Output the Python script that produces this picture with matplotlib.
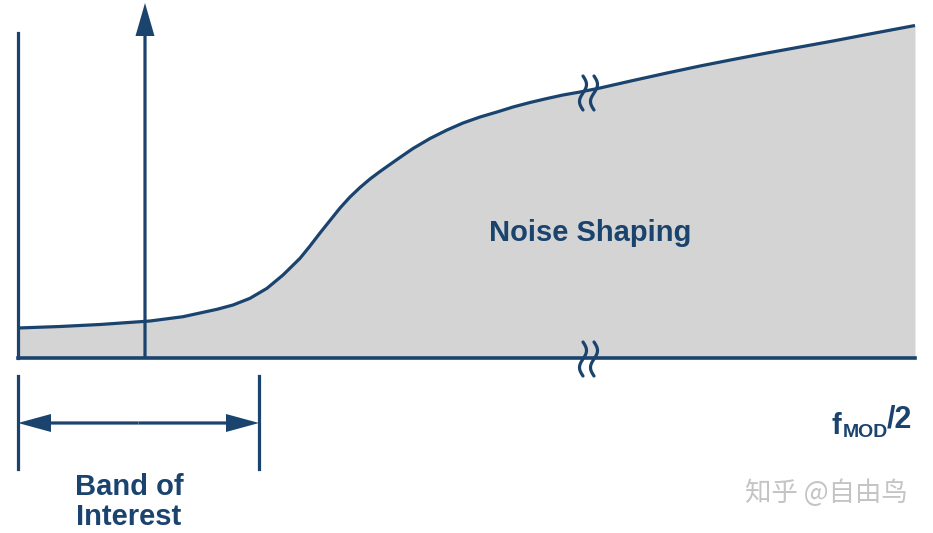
import matplotlib.pyplot as plt
import numpy as np

plt.rcParams['font.family'] = ['Liberation Sans', 'DejaVu Sans']

# colours
navy = '#1a436e'
fill_grey = '#d4d4d4'

# noise-shaping curve (pixel units, y downwards)
curve_x = [18, 60, 100, 150, 183, 217, 233, 250, 267, 283, 300, 310, 320, 330, 340,
           350, 360, 370, 380, 397, 413, 430, 447, 463, 480, 497, 513, 530, 547, 563, 580,
           600, 633, 667, 700, 733, 767, 800, 833, 867, 915]
curve_y = [328, 326.5, 324.5, 321, 316.7, 309.3, 305, 298.3, 288.3, 275, 258.3, 246, 233, 220.5, 208,
           197, 187.5, 179, 171.5, 159.5, 148.5, 138.5, 130, 123, 117, 112, 107, 102.5, 98.5, 95, 92,
           88, 80.5, 73, 66, 59.5, 53, 47, 41, 34.5, 25.5]

base_y = 358
axis_x = 18
axis_top = 33
signal_x = 145
signal_top = 3
band_edges = [18, 259]
band_y = 423
band_tick = [376, 469]
break_x = [583, 594]
break_y_curve = 93
break_y_base = 359

fig = plt.figure(figsize=(9.33, 5.33), dpi=100)
ax = fig.add_axes([0, 0, 1, 1])
ax.set_xlim(0, 933)
ax.set_ylim(533, 0)
ax.axis('off')

# shaded noise area + curve
ax.fill_between(curve_x, curve_y, base_y, color=fill_grey, lw=0)
ax.plot(curve_x, curve_y, color=navy, lw=2.3, solid_capstyle='butt', solid_joinstyle='round')

# axes
ax.plot([axis_x, axis_x], [axis_top, base_y], color=navy, lw=2.3)
ax.plot([axis_x, curve_x[-1]], [base_y, base_y], color=navy, lw=2.6)

# signal tone arrow
ax.arrow(signal_x, base_y, 0, signal_top - base_y, width=3.2, head_width=19,
         head_length=33, length_includes_head=True, color=navy, lw=0)

# band of interest
for bx in band_edges:
    ax.plot([bx, bx], band_tick, color=navy, lw=2.3)
mid = (band_edges[0] + band_edges[1]) / 2
for end in band_edges:
    ax.arrow(mid, band_y, end - mid, 0, width=3.2, head_width=18, head_length=33,
             length_includes_head=True, color=navy, lw=0)

# break marks
t = np.linspace(0, 1, 40)
for yc in [break_y_curve, break_y_base]:
    for xc in break_x:
        ax.plot(xc + 3.5 * np.sin(2 * np.pi * t), yc - 17 + 34 * t,
                color=navy, lw=2.3, solid_capstyle='round')

# labels
ax.text(590, 233, 'Noise Shaping', color=navy, fontsize=21, fontweight='bold',
        ha='center', va='center')
ax.text(129, 487, 'Band of', color=navy, fontsize=21, fontweight='bold',
        ha='center', va='center')
ax.text(129, 517, 'Interest', color=navy, fontsize=21, fontweight='bold',
        ha='center', va='center')
ax.text(832, 434, 'f', color=navy, fontsize=21, fontweight='bold', va='baseline')
ax.text(843, 437, 'MOD', color=navy, fontsize=14, fontweight='bold', va='baseline')
ax.text(887, 428, '/2', color=navy, fontsize=22, fontweight='bold', va='baseline')

# watermark
ax.text(908, 493, '知乎 @自由鸟', color='#c4c4c4', fontsize=19, ha='right', va='center',
        family=['Noto Sans CJK SC', 'DejaVu Sans'])

fig.savefig('out.png', dpi=100)
